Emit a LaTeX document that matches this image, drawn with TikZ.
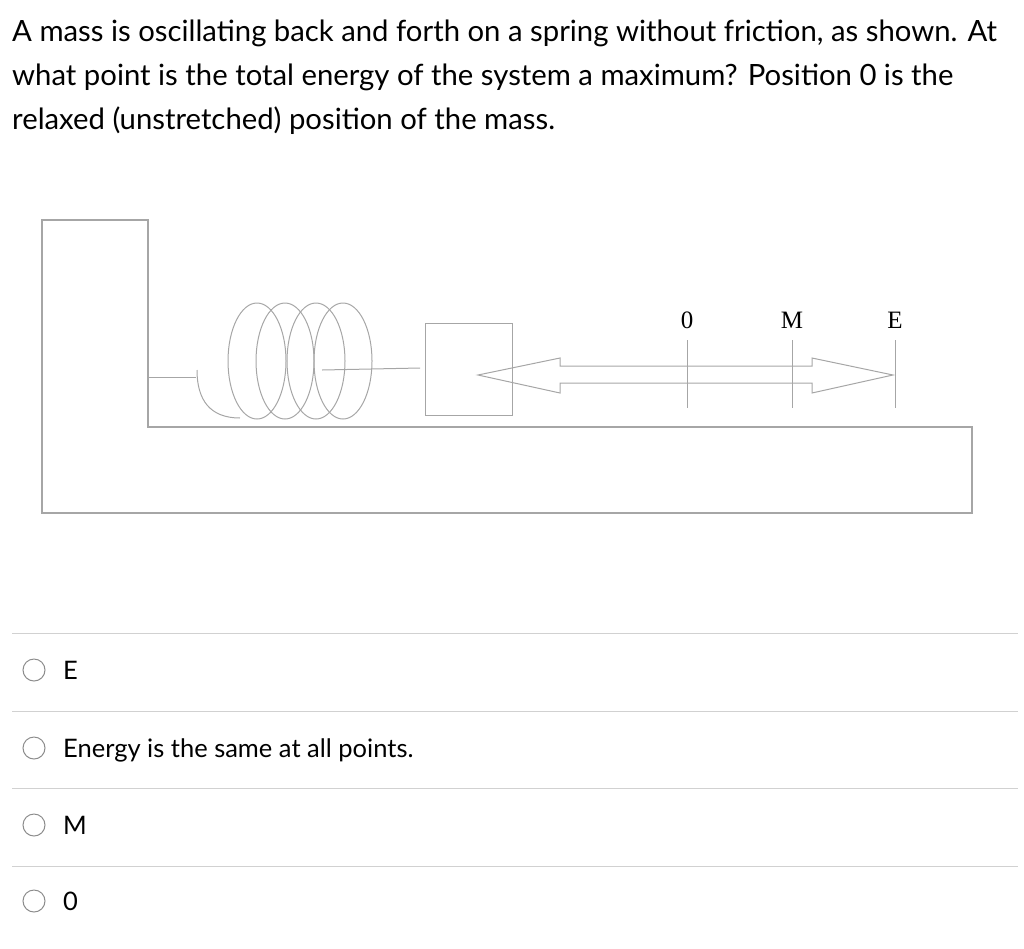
\documentclass[tikz,border=0pt]{standalone}
\usepackage{fontspec}
\setmainfont{Lato}
\newfontfamily\serifx{Liberation Serif}
\begin{document}
\begin{tikzpicture}[x=1pt,y=-1pt,
  fig/.style={draw=black!35,line width=1.1pt},
  opt/.style={anchor=base west,inner sep=0pt,font=\fontsize{25.5}{28}\selectfont},
  radio/.style={circle,draw=black!45,line width=1pt,minimum size=22pt,inner sep=0pt},
  sep/.style={draw=black!18,line width=1pt},
  lbl/.style={font=\serifx\fontsize{25}{28}\selectfont,inner sep=0pt}]
\useasboundingbox (0,0) rectangle (1024,948);
\node[anchor=north west,align=left,font=\fontsize{29.3}{44}\selectfont,inner sep=0pt] (q) at (12,20)
 {A mass is oscillating back and forth on a spring without friction, as shown. At\\
  what point is the total energy of the system a maximum? Position 0 is the\\
  relaxed (unstretched) position of the mass.};
% frame
\draw[fig] (42,220)--(148,220)--(148,427)--(972,427)--(972,513)--(42,513)--cycle;
% spring
\draw[fig,line width=1pt] (148,377)--(196,377);
\draw[fig,line width=1pt] (197,370) .. controls (197,400) and (210,418) .. (240,418);
\foreach \c in {257,285,316,343}
  \draw[fig,line width=1pt] (\c,361) ellipse (29 and 58);
\draw[fig,line width=1pt] (322,370)--(420,368);
% mass
\node[fig,line width=1pt,draw,minimum width=87pt,minimum height=92pt,inner sep=0pt] (m) at (468.5,369) {};
% arrow
\draw[fig,line width=1pt] (478,375)--(560,358)--(560,366)--(812,366)--(812,358)--(893,375)--(812,393)--(812,383)--(560,383)--(560,393)--cycle;
% ticks
\foreach \x/\t/\n in {687/0/a,792/M/b,895/E/c}{
  \coordinate (t\n) at (\x,340); \coordinate (b\n) at (\x,408);
  \draw[fig,line width=1pt] (t\n)--(b\n);
  \node[lbl,anchor=base] at (\x,328) {\t};}
% options
\foreach \y in {633,711,788,866} \draw[sep] (12,\y)--(1018,\y);
\node[radio] (r1) at (34,670) {}; \node[opt] at (63,679) {E};
\node[radio] (r2) at (34,748) {}; \node[opt] at (63,757) {Energy is the same at all points.};
\node[radio] (r3) at (34,825) {}; \node[opt] at (63,834) {M};
\node[radio] (r4) at (34,901) {}; \node[opt] at (63,910) {0};
\end{tikzpicture}
\end{document}
